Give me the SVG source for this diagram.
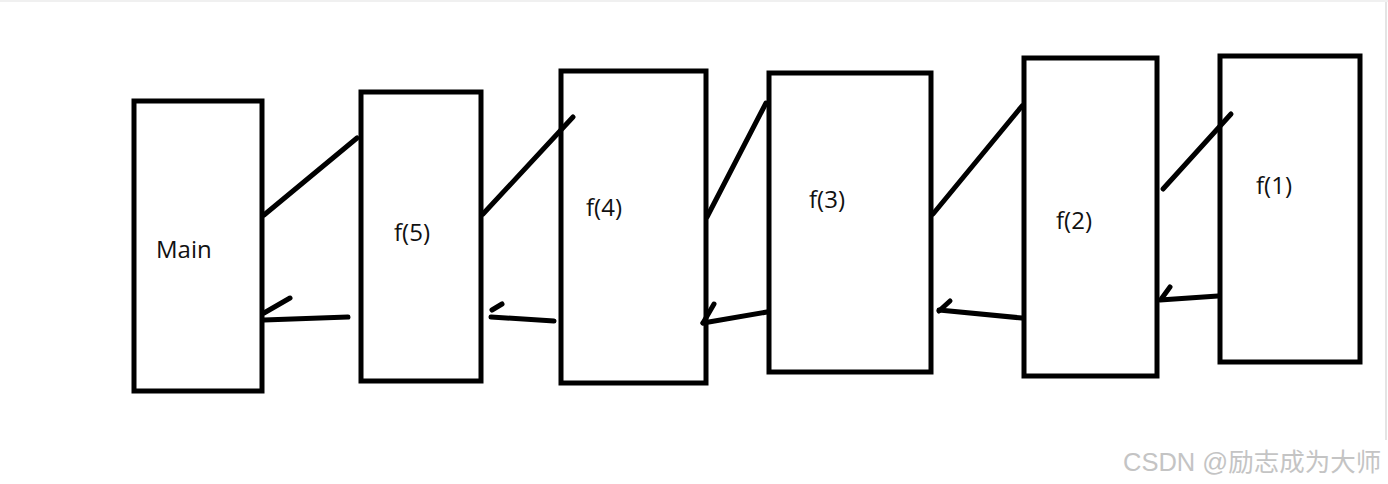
<svg xmlns="http://www.w3.org/2000/svg" width="1388" height="484" viewBox="0 0 1388 484">
<style>
.box{fill:#fff;stroke:#000;stroke-width:5}
.ln{stroke:#000;stroke-width:5;stroke-linecap:round;fill:none}
.lbl{font-family:"Open Sans","Noto Sans",sans-serif;font-size:24px;fill:#111}
.wm{font-family:"Liberation Sans","Noto Sans CJK SC",sans-serif;font-size:25.5px;fill:#c4c4c4}
</style>
<rect width="1388" height="484" fill="#fff"/>
<line x1="1386" y1="0" x2="1386" y2="440" stroke="#e4e4e4" stroke-width="2"/>
<line x1="0" y1="1" x2="1388" y2="1" stroke="#f0f0f0" stroke-width="2"/>
<g id="main"><rect class="box" x="134" y="101" width="128" height="290"/><text class="lbl" x="156" y="258">Main</text></g>
<g id="f5"><rect class="box" x="361" y="92" width="120" height="289"/><text class="lbl" x="394" y="241">f(5)</text></g>
<g id="f4"><rect class="box" x="561" y="71" width="145" height="312"/><text class="lbl" x="586" y="216">f(4)</text></g>
<g id="f3"><rect class="box" x="769" y="73" width="162" height="299"/><text class="lbl" x="809" y="208">f(3)</text></g>
<g id="f2"><rect class="box" x="1024" y="58" width="133" height="318"/><text class="lbl" x="1056" y="229">f(2)</text></g>
<g id="f1"><rect class="box" x="1220" y="56" width="140" height="306"/><text class="lbl" x="1256" y="194">f(1)</text></g>
<g id="connectors">
<line class="ln" x1="264" y1="215" x2="357" y2="138"/>
<line class="ln" x1="483" y1="214" x2="573" y2="117"/>
<line class="ln" x1="707" y1="217" x2="766" y2="103"/>
<line class="ln" x1="933" y1="214" x2="1022" y2="106"/>
<line class="ln" x1="1163" y1="189" x2="1231" y2="114"/>
<line class="ln" x1="1218" y1="296" x2="1160" y2="300"/>
<line class="ln" x1="1162" y1="298" x2="1170" y2="287"/>
<line class="ln" x1="1022" y1="318" x2="939" y2="310"/>
<line class="ln" x1="939" y1="311" x2="950" y2="301"/>
<line class="ln" x1="767" y1="312" x2="703" y2="323"/>
<line class="ln" x1="703" y1="323" x2="714" y2="304"/>
<line class="ln" x1="554" y1="321" x2="491" y2="317"/>
<line class="ln" x1="492" y1="310" x2="502" y2="304"/>
<line class="ln" x1="348" y1="317" x2="264" y2="320"/>
<line class="ln" x1="264" y1="313" x2="290" y2="298"/>
</g>
<text class="wm" x="1123" y="471">CSDN @励志成为大师</text>
</svg>
